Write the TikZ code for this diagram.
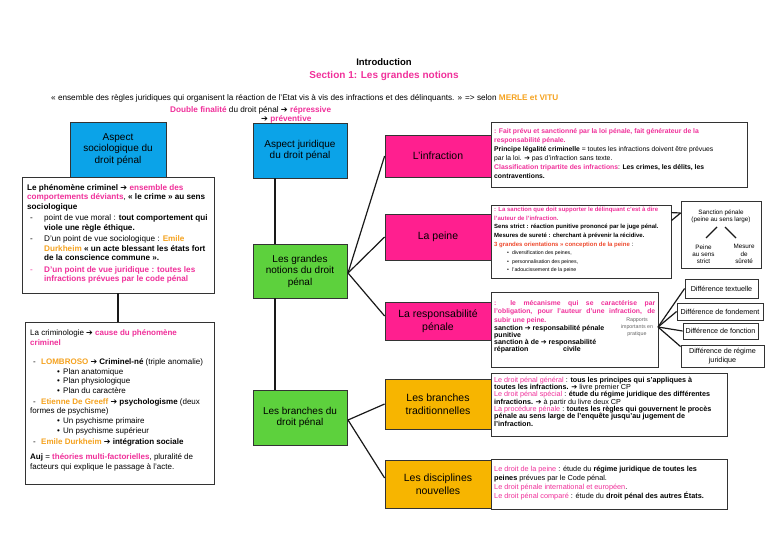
\documentclass[tikz,border=0pt]{standalone}
\usepackage{fontspec}
\setmainfont{Liberation Sans}
\newfontfamily\symf{DejaVu Sans}
\usetikzlibrary{calc}
\definecolor{cblue}{HTML}{0BA3E8}
\definecolor{cgreen}{HTML}{5DD13D}
\definecolor{cpink}{HTML}{FF1F8F}
\definecolor{cgold}{HTML}{F7B500}
\definecolor{tpink}{HTML}{F0309A}
\definecolor{torange}{HTML}{F5A21E}
\definecolor{tred}{HTML}{EE4A2E}
\definecolor{tgray}{HTML}{666666}
\newcommand\harr{{\symf ➔}}
\newcommand\pkb[1]{\textcolor{tpink}{\bfseries #1}}
\newcommand\pkn[1]{\textcolor{tpink}{#1}}
\newcommand\orb[1]{\textcolor{torange}{\bfseries #1}}
\tikzset{
  lab/.style={draw=black!80, line width=0.8pt, align=center, inner sep=1pt},
  colbox/.style={lab, font=\fontsize{10}{11.5}\selectfont},
  catbox/.style={lab, font=\fontsize{10.5}{13}\selectfont},
  tbox/.style={draw=black!80, line width=0.8pt, fill=white, inner sep=0pt},
  txt/.style={inner sep=0pt, anchor=base west},
  conn/.style={line width=1.2pt, black!90},
  dbox/.style={draw=black!80, line width=0.8pt, fill=white, align=center, inner sep=0pt, font=\fontsize{7.2}{9}\selectfont},
  small/.style={inner sep=0pt, align=center, font=\fontsize{6.3}{7.2}\selectfont},
}
\begin{document}
\begin{tikzpicture}[x=1pt,y=-1pt]
\useasboundingbox (0,0) rectangle (768,543);

% header
\node[anchor=base, inner sep=0pt] (title) at (384,66) {\fontsize{9.5}{11}\selectfont\bfseries Introduction};
\node[anchor=base, inner sep=0pt] (sect) at (384,78.5) {\fontsize{10}{12}\selectfont\pkb{Section 1: Les grandes notions}};
\node[txt] (quote) at (51,100.5) {\fontsize{8.2}{10}\selectfont « ensemble des règles juridiques qui organisent la réaction de l'Etat vis à vis des infractions et des délinquants. » => selon \orb{MERLE et VITU}};
\node[txt] (fin) at (170,112) {\fontsize{8.2}{10}\selectfont\pkb{Double finalité} du droit pénal \harr{} \pkb{répressive}};
\node[txt] (prev) at (261,121) {\fontsize{8.2}{10}\selectfont\harr{} \pkb{préventive}};

% left column
\node[colbox, fill=cblue, minimum width=96, minimum height=55] (soc) at (118,149.5) {Aspect\\sociologique du\\droit pénal};
\node[tbox, minimum width=192, minimum height=116] (soct) at (118,235) {};
\node[txt] (soctx) at (27,190.4) {\parbox[t]{190pt}{\raggedright\fontsize{8.15}{9.3}\selectfont
\textbf{Le phénomène criminel \harr} \pkb{ensemble des}\\
\pkb{comportements déviants}, \textbf{« le crime » au sens}\\
\textbf{sociologique}\\[2.4pt]
\makebox[17pt][l]{\hspace{3pt}-}point de vue moral : \textbf{tout comportement qui}\\
\hspace*{17pt}\textbf{viole une règle éthique.}\\[2.4pt]
\makebox[17pt][l]{\hspace{3pt}-}D'un point de vue sociologique : \orb{Emile}\\
\hspace*{17pt}\orb{Durkheim} \textbf{« un acte blessant les états fort}\\
\hspace*{17pt}\textbf{de la conscience commune ».}\\[2.4pt]
\makebox[17pt][l]{\hspace{3pt}\textcolor{tpink}{-}}\pkb{D'un point de vue juridique : toutes les}\\
\hspace*{17pt}\pkb{infractions prévues par le code pénal}}};
\node[tbox, minimum width=189, minimum height=162] (crim) at (119.5,403) {};
\node[txt] (crimx) at (30,335.4) {\parbox[t]{185pt}{\raggedright\fontsize{8}{9.6}\selectfont
La criminologie \harr{} \pkb{cause du phénomène}\\
\pkb{criminel}\\[9.8pt]
\makebox[11pt][l]{\hspace{3pt}-}\orb{LOMBROSO} \textbf{\harr{} Criminel-né} (triple anomalie)\\
\hspace*{27pt}\makebox[6pt][l]{•}Plan anatomique\\
\hspace*{27pt}\makebox[6pt][l]{•}Plan physiologique\\
\hspace*{27pt}\makebox[6pt][l]{•}Plan du caractère\\[1.4pt]
\makebox[11pt][l]{\hspace{3pt}-}\orb{Etienne De Greeff} \textbf{\harr{} psychologisme} (deux\\
formes de psychisme)\\
\hspace*{27pt}\makebox[6pt][l]{•}Un psychisme primaire\\
\hspace*{27pt}\makebox[6pt][l]{•}Un psychisme supérieur\\[2pt]
\makebox[11pt][l]{\hspace{3pt}-}\orb{Emile Durkheim} \textbf{\harr{} intégration sociale}\\[5.6pt]
\textbf{Auj} = \pkb{théories multi-factorielles}, pluralité de\\
facteurs qui explique le passage à l'acte.}};

% middle column
\node[colbox, fill=cblue, minimum width=94, minimum height=55] (jur) at (300,150.5) {Aspect juridique\\du droit pénal};
\node[colbox, fill=cgreen, minimum width=94, minimum height=54] (gn) at (300,271) {Les grandes\\notions du droit\\pénal};
\node[colbox, fill=cgreen, minimum width=94, minimum height=55] (br) at (300,417.5) {Les branches du\\droit pénal};

% category boxes
\node[catbox, fill=cpink, minimum width=106, minimum height=42] (inf) at (438,156) {L'infraction};
\node[catbox, fill=cpink, minimum width=106, minimum height=46] (pei) at (438,237) {La peine};
\node[catbox, fill=cpink, minimum width=106, minimum height=38] (resp) at (438,321) {La responsabilité\\pénale};
\node[catbox, fill=cgold, minimum width=106, minimum height=50] (trad) at (438,404) {Les branches\\traditionnelles};
\node[catbox, fill=cgold, minimum width=106, minimum height=48] (disc) at (438,484) {Les disciplines\\nouvelles};

% infraction text
\node[tbox, minimum width=256, minimum height=65] (inft) at (619,154.5) {};
\node[txt] (inftx) at (494,133) {\parbox[t]{250pt}{\raggedright\fontsize{6.8}{9}\selectfont
\pkb{: Fait prévu et sanctionné par la loi pénale, fait générateur de la}\\
\pkb{responsabilité pénale.}\\
\textbf{Principe légalité criminelle} = toutes les infractions doivent être prévues\\
par la loi. \harr{} pas d'infraction sans texte.\\
\pkb{Classification tripartite des infractions}: \textbf{Les crimes, les délits, les}\\
\textbf{contraventions.}}};

% peine text
\node[tbox, minimum width=180, minimum height=73] (peit) at (581,241.5) {};
\node[txt] (peitx) at (494,211.8) {\parbox[t]{178pt}{\raggedright\fontsize{6}{8.57}\selectfont
\pkb{: La sanction que doit supporter le délinquant c'est à dire}\\
\pkb{l'auteur de l'infraction.}\\
\textbf{Sens strict : réaction punitive prononcé par le juge pénal.}\\
\textbf{Mesures de sureté : cherchant à prévenir la récidive.}\\
\textcolor{tred}{\bfseries 3 grandes orientations » conception de la peine} :\\
{\fontsize{5.2}{8.57}\selectfont\hspace*{13pt}\makebox[5pt][l]{•}diversification des peines,}\\
{\fontsize{5.2}{8.57}\selectfont\hspace*{13pt}\makebox[5pt][l]{•}personnalisation des peines,}\\
{\fontsize{5.2}{8.57}\selectfont\hspace*{13pt}\makebox[5pt][l]{•}l'adoucissement de la peine}}};

% sanction box
\node[tbox, minimum width=80, minimum height=67] (sanc) at (721,234.5) {};
\node[small] (sanct) at (721,216.5) {Sanction pénale\\(peine au sens large)};
\node[small] (ps) at (703.5,254) {Peine\\au sens\\strict};
\node[small] (ms) at (744,254) {Mesure\\de\\sûreté};
\coordinate (sa1) at (717,227);
\coordinate (sa2) at (706,238);
\coordinate (sb1) at (725,227);
\coordinate (sb2) at (736,238);
\draw[conn] (sa1) -- (sa2);
\draw[conn] (sb1) -- (sb2);

% responsabilite text
\node[tbox, minimum width=167, minimum height=75] (respt) at (574.5,329.5) {};
\node[txt] (resptx) at (494,305) {\parbox[t]{165pt}{\fontsize{6.8}{8.5}\selectfont
\makebox[161pt][s]{\pkb{: le mécanisme qui se caractérise par}}\\
\makebox[161pt][s]{\pkb{l'obligation, pour l'auteur d'une infraction, de}}\\
\pkb{subir une peine.}}};
\node[txt] (sancx) at (494,330.4) {\parbox[t]{130pt}{\raggedright\fontsize{7}{6.7}\selectfont\bfseries
sanction \harr{} responsabilité pénale\\
punitive\\[1pt]
sanction à de \harr{} responsabilité\\
\makebox[69pt][l]{réparation}civile}};
\node[small, text=tgray, font=\fontsize{5.3}{6.8}\selectfont] (rapp) at (637,327.5) {Rapports\\importants en\\pratique};

% difference boxes
\node[dbox, minimum width=73, minimum height=19] (d1) at (721.5,288.5) {Différence textuelle};
\node[dbox, minimum width=86, minimum height=17] (d2) at (720,311.5) {Différence de fondement};
\node[dbox, minimum width=75, minimum height=16] (d3) at (720.5,331) {Différence de fonction};
\node[dbox, minimum width=83, minimum height=22] (d4) at (722.5,356) {Différence de régime\\juridique};

% branches text
\node[tbox, minimum width=236, minimum height=63] (tradt) at (609,404.5) {};
\node[txt] (tradtx) at (494,382) {\parbox[t]{232pt}{\raggedright\fontsize{7.2}{7.35}\selectfont
\pkn{Le droit pénal général} : \textbf{tous les principes qui s'appliques à}\\
\textbf{toutes les infractions. \harr} livre premier CP\\
\pkn{Le droit pénal spécial} : \textbf{étude du régime juridique des différentes}\\
\textbf{infractions. \harr} à partir du livre deux CP\\
\pkn{La procédure pénale} : \textbf{toutes les règles qui gouvernent le procès}\\
\textbf{pénale au sens large de l'enquête jusqu'au jugement de}\\
\textbf{l'infraction.}}};

% disciplines text
\node[tbox, minimum width=236, minimum height=50] (disct) at (609,484) {};
\node[txt] (disctx) at (494,471) {\parbox[t]{232pt}{\raggedright\fontsize{7.3}{9}\selectfont
\pkn{Le droit de la peine} : étude du \textbf{régime juridique de toutes les}\\
\textbf{peines} prévues par le Code pénal.\\
\pkn{Le droit pénale international et européen}.\\
\pkn{Le droit pénal comparé} : étude du \textbf{droit pénal des autres États.}}};

% connectors
\draw[conn] (soct.south) -- (crim.north -| soct.south);
\draw[conn] ([xshift=-25pt]jur.south) -- ([xshift=-25pt]gn.north);
\draw[conn] ([xshift=-25pt]gn.south) -- ([xshift=-25pt]br.north);
\coordinate (f1) at (348,273);
\draw[conn] (f1) -- (inf.west);
\draw[conn] (f1) -- (pei.west);
\draw[conn] (f1) -- ([yshift=5pt]resp.west);
\coordinate (f2) at (348,420);
\draw[conn] (f2) -- (trad.west);
\draw[conn] (f2) -- ([yshift=6pt]disc.west);
\draw[conn] ([yshift=-8pt]peit.north east) -- ([yshift=21.5pt]sanc.west);
\draw[conn] ([yshift=-16pt]peit.north east) -- ([yshift=21.5pt]sanc.west);
\coordinate (f3) at (658,327);
\draw[conn] (f3) -- (d1.west);
\draw[conn] (f3) -- (d2.west);
\draw[conn] (f3) -- (d3.west);
\draw[conn] (f3) -- ([yshift=-2pt]d4.north west);
\end{tikzpicture}
\end{document}
